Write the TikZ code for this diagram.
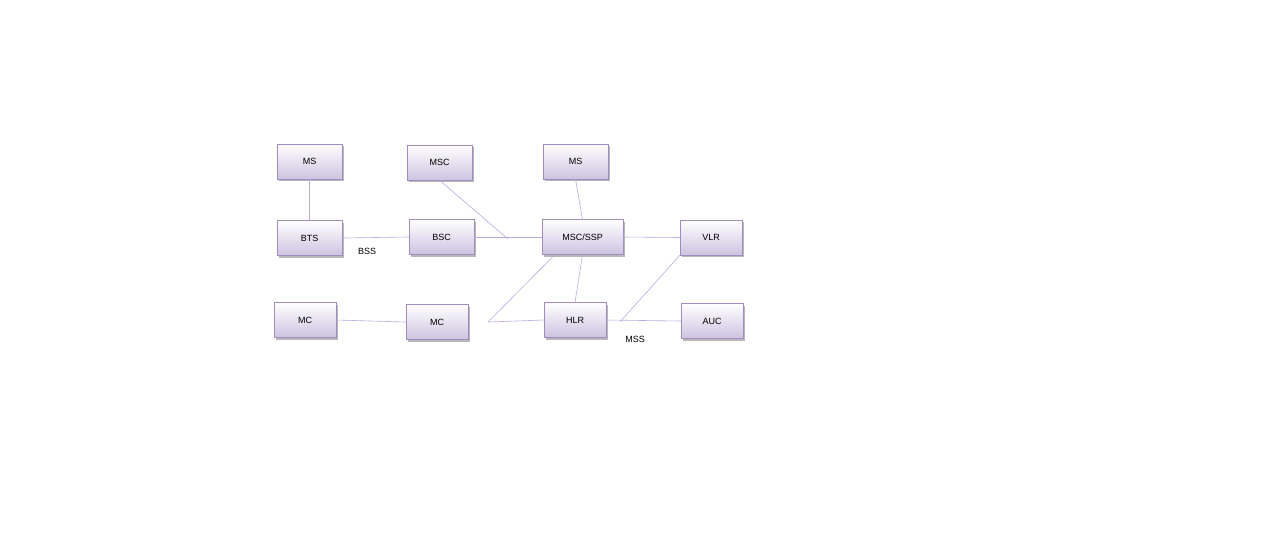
\documentclass[tikz,border=0pt]{standalone}
\usepackage{fontspec}
\setmainfont{Liberation Sans}
\usetikzlibrary{shadows}
\definecolor{bd}{RGB}{160,140,190}
\definecolor{bot}{RGB}{205,195,225}
\definecolor{ln}{RGB}{185,170,225}
\begin{document}
\begin{tikzpicture}[x=1pt,y=-1pt,
 box/.style={draw=bd,top color=white,bottom color=bot,minimum height=35pt,inner sep=0pt,
   drop shadow={shadow xshift=2pt,shadow yshift=-2pt,fill=gray!70,opacity=0.8},font=\fontsize{9}{10}\selectfont},
 con/.style={draw=ln,line width=0.6pt}]
\useasboundingbox (0,0) rectangle (1287,542);
\node[box,minimum width=65pt] (ms1) at (309.5,161.5) {MS};
\node[box,minimum width=65pt] (msc) at (439.5,162.5) {MSC};
\node[box,minimum width=65pt] (ms2) at (575.5,161.5) {MS};
\node[box,minimum width=65pt] (bts) at (309.5,238) {BTS};
\node[box,minimum width=65pt] (bsc) at (441.5,237) {BSC};
\node[box,minimum width=81pt] (ssp) at (582.5,237) {MSC/SSP};
\node[box,minimum width=62pt] (vlr) at (711,237.5) {VLR};
\node[box,minimum width=62pt] (mc1) at (305,320) {MC};
\node[box,minimum width=62pt] (mc2) at (437,322) {MC};
\node[box,minimum width=62pt] (hlr) at (575,320) {HLR};
\node[box,minimum width=62pt] (auc) at (712,321) {AUC};
\node[font=\fontsize{9}{10}\selectfont] (bss) at (367,251) {BSS};
\node[font=\fontsize{9}{10}\selectfont] (mss) at (635,339) {MSS};
\coordinate (j1) at (508,239);
\coordinate (j2) at (488,322);
\coordinate (j3) at (620,322);
\draw[con] (ms1) -- (bts);
\draw[con] (bts.east) -- (bsc.west);
\draw[con] (msc.south) -- (j1);
\draw[con] (bsc.east) -- (ssp.west);
\draw[con] (ms2.south) -- (ssp.north);
\draw[con] (ssp.east) -- (vlr.west);
\draw[con] (ssp.south) -- (hlr.north);
\draw[con] (ssp.south west)++(11,2) -- (j2);
\draw[con] (mc1.east) -- (mc2.west);
\draw[con] (j2) -- (hlr.west);
\draw[con] (hlr.east) -- (auc.west);
\draw[con] (vlr.south west) -- (j3);
\end{tikzpicture}
\end{document}
